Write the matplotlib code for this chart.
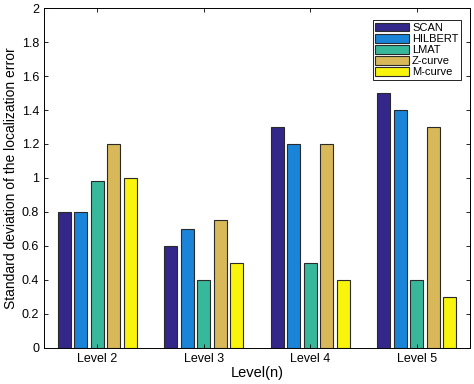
import numpy as np
import matplotlib
matplotlib.use("Agg")
import matplotlib.pyplot as plt

plt.rcParams['font.family'] = ['Liberation Sans', 'DejaVu Sans']

levels = ['Level 2', 'Level 3', 'Level 4', 'Level 5']
series = ['SCAN', 'HILBERT', 'LMAT', 'Z-curve', 'M-curve']
scan = [0.8, 0.6, 1.3, 1.5]
hilbert = [0.8, 0.7, 1.2, 1.4]
lmat = [0.98, 0.4, 0.5, 0.4]
zcurve = [1.2, 0.75, 1.2, 1.3]
mcurve = [1.0, 0.5, 0.4, 0.3]
colors = ['#33288a', '#1a84d8', '#38b89a', '#d8b858', '#f8f40c']

fig = plt.figure(figsize=(4.74, 3.84), dpi=100)
ax = fig.add_axes([0.093, 0.094, 0.899, 0.885])

x = np.arange(1, len(levels) + 1)
step = 0.155
width = 0.122
for i, (name, vals) in enumerate(zip(series, [scan, hilbert, lmat, zcurve, mcurve])):
    ax.bar(x + (i - 2) * step, vals, width=width, color=colors[i],
           edgecolor='#2a2a2a', linewidth=0.8, label=name)

ax.set_xlim(0.5, 4.5)
ax.set_ylim(0, 2)
ax.set_xticks(x)
ax.set_xticklabels(levels)
yt = np.arange(0, 2.01, 0.2)
ax.set_yticks(yt)
ax.set_yticklabels([f'{v:g}' for v in yt])
ax.tick_params(direction='in', top=True, right=True, labelsize=9, length=3, width=0.6)
for s in ax.spines.values():
    s.set_linewidth(0.7)
ax.set_xlabel('Level(n)', fontsize=10.5, labelpad=1)
ax.set_ylabel('Standard deviation of the localization error', fontsize=10, labelpad=3)

leg = ax.legend(loc='upper right', fontsize=8, fancybox=False, framealpha=1,
                edgecolor='black', handlelength=3.0, handleheight=0.85,
                handletextpad=0.3, labelspacing=0.08, borderpad=0.25,
                bbox_to_anchor=(0.992, 0.982))
leg.get_frame().set_linewidth(0.6)

fig.savefig('out.png', dpi=100)
